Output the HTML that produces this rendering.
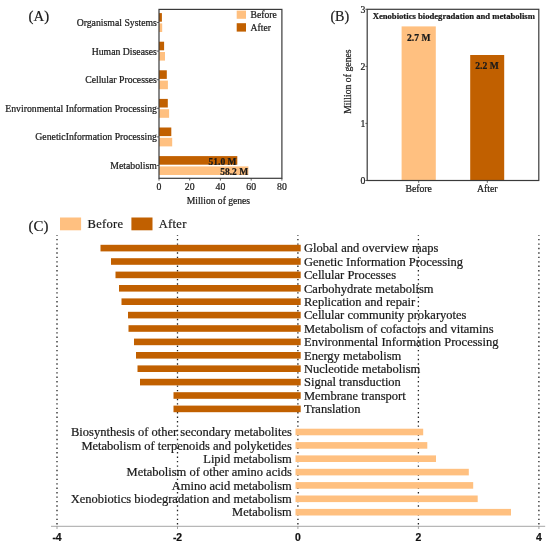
<!DOCTYPE html>
<html><head><meta charset="utf-8"><title>Figure</title>
<style>html,body{margin:0;padding:0;background:#fff}svg{display:block}text{font-family:"Liberation Serif","Times New Roman",serif;fill:#1a1a1a;stroke:#1a1a1a;stroke-width:0.22px}.b{font-weight:bold}.s{font-family:"Liberation Sans",Arial,sans-serif;font-weight:bold;fill:#111}</style>
</head><body>
<svg width="550" height="548" viewBox="0 0 550 548">
<rect width="550" height="548" fill="#fff"/>
<g id="panelA">
<text x="28.6" y="20.6" font-size="14.8">(A)</text>
<rect x="159.0" y="13.1" width="2.9" height="8.6" fill="#c16000"/>
<rect x="159.0" y="23.4" width="3.2" height="8.6" fill="#ffc080"/>
<line x1="156.8" x2="159.0" y1="22.5" y2="22.5" stroke="#3a3a3a" stroke-width="0.8"/>
<text x="156.9" y="25.9" font-size="9.75" text-anchor="end">Organismal Systems</text>
<rect x="159.0" y="41.7" width="5.1" height="8.6" fill="#c16000"/>
<rect x="159.0" y="52.0" width="6.0" height="8.6" fill="#ffc080"/>
<line x1="156.8" x2="159.0" y1="51.1" y2="51.1" stroke="#3a3a3a" stroke-width="0.8"/>
<text x="156.9" y="54.5" font-size="9.75" text-anchor="end">Human Diseases</text>
<rect x="159.0" y="70.3" width="7.8" height="8.6" fill="#c16000"/>
<rect x="159.0" y="80.6" width="8.9" height="8.6" fill="#ffc080"/>
<line x1="156.8" x2="159.0" y1="79.7" y2="79.7" stroke="#3a3a3a" stroke-width="0.8"/>
<text x="156.9" y="83.1" font-size="9.75" text-anchor="end">Cellular Processes</text>
<rect x="159.0" y="98.9" width="8.8" height="8.6" fill="#c16000"/>
<rect x="159.0" y="109.2" width="10.1" height="8.6" fill="#ffc080"/>
<line x1="156.8" x2="159.0" y1="108.3" y2="108.3" stroke="#3a3a3a" stroke-width="0.8"/>
<text x="156.9" y="111.7" font-size="9.75" text-anchor="end">Environmental Information Processing</text>
<rect x="159.0" y="127.5" width="12.3" height="8.6" fill="#c16000"/>
<rect x="159.0" y="137.8" width="13.2" height="8.6" fill="#ffc080"/>
<line x1="156.8" x2="159.0" y1="136.9" y2="136.9" stroke="#3a3a3a" stroke-width="0.8"/>
<text x="156.9" y="140.3" font-size="9.75" text-anchor="end">GeneticInformation Processing</text>
<rect x="159.0" y="156.1" width="78.3" height="8.6" fill="#c16000"/>
<rect x="159.0" y="166.4" width="89.4" height="8.6" fill="#ffc080"/>
<line x1="156.8" x2="159.0" y1="165.5" y2="165.5" stroke="#3a3a3a" stroke-width="0.8"/>
<text x="156.9" y="168.9" font-size="9.75" text-anchor="end">Metabolism</text>
<rect x="159.0" y="9.4" width="122.9" height="168.9" fill="none" stroke="#3a3a3a" stroke-width="1.2"/>
<line x1="159.0" x2="159.0" y1="178.3" y2="180.60000000000002" stroke="#3a3a3a" stroke-width="0.8"/>
<text x="159.0" y="190.2" font-size="9.75" text-anchor="middle">0</text>
<line x1="189.7" x2="189.7" y1="178.3" y2="180.60000000000002" stroke="#3a3a3a" stroke-width="0.8"/>
<text x="189.7" y="190.2" font-size="9.75" text-anchor="middle">20</text>
<line x1="220.4" x2="220.4" y1="178.3" y2="180.60000000000002" stroke="#3a3a3a" stroke-width="0.8"/>
<text x="220.4" y="190.2" font-size="9.75" text-anchor="middle">40</text>
<line x1="251.2" x2="251.2" y1="178.3" y2="180.60000000000002" stroke="#3a3a3a" stroke-width="0.8"/>
<text x="251.2" y="190.2" font-size="9.75" text-anchor="middle">60</text>
<line x1="281.9" x2="281.9" y1="178.3" y2="180.60000000000002" stroke="#3a3a3a" stroke-width="0.8"/>
<text x="281.9" y="190.2" font-size="9.75" text-anchor="middle">80</text>
<text x="218.4" y="204.3" font-size="9.6" text-anchor="middle">Million of genes</text>
<text class="b" x="236.5" y="165.2" font-size="9.5" text-anchor="end">51.0 M</text>
<text class="b" x="248.1" y="174.8" font-size="9.5" text-anchor="end">58.2 M</text>
<rect x="236.7" y="10.6" width="9.3" height="8.2" fill="#ffc080"/>
<rect x="236.7" y="23.2" width="9.3" height="8.4" fill="#c16000"/>
<text x="250.6" y="17.8" font-size="9.6">Before</text>
<text x="250.6" y="30.8" font-size="9.6">After</text>
</g>
<g id="panelB">
<text x="330.4" y="20.9" font-size="14.1">(B)</text>
<rect x="401.6" y="26.4" width="34.2" height="154.1" fill="#ffc080"/>
<rect x="470.2" y="55.0" width="34.0" height="125.5" fill="#c16000"/>
<rect x="367.2" y="9.3" width="171.6" height="171.2" fill="none" stroke="#3a3a3a" stroke-width="1.2"/>
<line x1="365.4" x2="367.2" y1="180.5" y2="180.5" stroke="#3a3a3a" stroke-width="0.8"/>
<text x="365.3" y="183.8" font-size="9.75" text-anchor="end">0</text>
<line x1="365.4" x2="367.2" y1="123.4" y2="123.4" stroke="#3a3a3a" stroke-width="0.8"/>
<text x="365.3" y="126.7" font-size="9.75" text-anchor="end">1</text>
<line x1="365.4" x2="367.2" y1="66.4" y2="66.4" stroke="#3a3a3a" stroke-width="0.8"/>
<text x="365.3" y="69.7" font-size="9.75" text-anchor="end">2</text>
<line x1="365.4" x2="367.2" y1="9.3" y2="9.3" stroke="#3a3a3a" stroke-width="0.8"/>
<text x="365.3" y="12.6" font-size="9.75" text-anchor="end">3</text>
<line x1="418.7" x2="418.7" y1="180.5" y2="182.8" stroke="#3a3a3a" stroke-width="0.8"/>
<line x1="487.3" x2="487.3" y1="180.5" y2="182.8" stroke="#3a3a3a" stroke-width="0.8"/>
<text x="418.7" y="191.6" font-size="9.75" text-anchor="middle">Before</text>
<text x="487.3" y="191.6" font-size="9.75" text-anchor="middle">After</text>
<text transform="translate(351.3,81.6) rotate(-90)" font-size="9.75" text-anchor="middle">Million of genes</text>
<text class="b" x="453.8" y="19.1" font-size="8.65" text-anchor="middle">Xenobiotics biodegradation and metabolism</text>
<text class="b" x="418.8" y="40.8" font-size="9.6" text-anchor="middle">2.7 M</text>
<text class="b" x="487.0" y="69.3" font-size="9.6" text-anchor="middle">2.2 M</text>
</g>
<g id="panelC">
<text x="28.6" y="230.9" font-size="14.8">(C)</text>
<rect x="60.0" y="217.5" width="21.1" height="12.8" fill="#ffc080"/>
<text x="87.5" y="228.3" font-size="12.5" letter-spacing="0.3">Before</text>
<rect x="131.4" y="217.5" width="21.1" height="12.8" fill="#c16000"/>
<text x="158.8" y="228.3" font-size="12.5" letter-spacing="0.3">After</text>
<line x1="57.0" x2="57.0" y1="235.3" y2="526.2" stroke="#222" stroke-width="1.3" stroke-dasharray="1.4 3.04" stroke-dashoffset="0.8"/>
<line x1="177.5" x2="177.5" y1="235.3" y2="526.2" stroke="#222" stroke-width="1.3" stroke-dasharray="1.4 3.04" stroke-dashoffset="0.8"/>
<line x1="297.9" x2="297.9" y1="235.3" y2="526.2" stroke="#222" stroke-width="1.3" stroke-dasharray="1.4 3.04" stroke-dashoffset="0.8"/>
<line x1="418.4" x2="418.4" y1="235.3" y2="526.2" stroke="#222" stroke-width="1.3" stroke-dasharray="1.4 3.04" stroke-dashoffset="0.8"/>
<line x1="538.9" x2="538.9" y1="235.3" y2="526.2" stroke="#222" stroke-width="1.3" stroke-dasharray="1.4 3.04" stroke-dashoffset="0.8"/>
<rect x="100.5" y="244.8" width="200.2" height="6.6" fill="#c16000"/>
<text x="304" y="252.4" font-size="12.5">Global and overview maps</text>
<rect x="111" y="258.2" width="189.7" height="6.6" fill="#c16000"/>
<text x="304" y="265.8" font-size="12.5">Genetic Information Processing</text>
<rect x="115.5" y="271.6" width="185.2" height="6.6" fill="#c16000"/>
<text x="304" y="279.2" font-size="12.5">Cellular Processes</text>
<rect x="119" y="285.0" width="181.7" height="6.6" fill="#c16000"/>
<text x="304" y="292.6" font-size="12.5">Carbohydrate metabolism</text>
<rect x="121.5" y="298.4" width="179.2" height="6.6" fill="#c16000"/>
<text x="304" y="306.0" font-size="12.5">Replication and repair</text>
<rect x="128" y="311.8" width="172.7" height="6.6" fill="#c16000"/>
<text x="304" y="319.4" font-size="12.5">Cellular community prokaryotes</text>
<rect x="128.5" y="325.2" width="172.2" height="6.6" fill="#c16000"/>
<text x="304" y="332.8" font-size="12.5">Metabolism of cofactors and vitamins</text>
<rect x="134" y="338.6" width="166.7" height="6.6" fill="#c16000"/>
<text x="304" y="346.2" font-size="12.5">Environmental Information Processing</text>
<rect x="136" y="352.0" width="164.7" height="6.6" fill="#c16000"/>
<text x="304" y="359.6" font-size="12.5">Energy metabolism</text>
<rect x="137.5" y="365.4" width="163.2" height="6.6" fill="#c16000"/>
<text x="304" y="373.0" font-size="12.5">Nucleotide metabolism</text>
<rect x="140" y="378.8" width="160.7" height="6.6" fill="#c16000"/>
<text x="304" y="386.4" font-size="12.5">Signal transduction</text>
<rect x="173.5" y="392.2" width="127.2" height="6.6" fill="#c16000"/>
<text x="304" y="399.8" font-size="12.5">Membrane transport</text>
<rect x="173.5" y="405.6" width="127.2" height="6.6" fill="#c16000"/>
<text x="304" y="413.2" font-size="12.5">Translation</text>
<rect x="295.5" y="428.7" width="127.7" height="6.6" fill="#ffc080"/>
<text x="291.8" y="436.2" font-size="12.5" text-anchor="end">Biosynthesis of other secondary metabolites</text>
<rect x="295.5" y="442.1" width="131.8" height="6.6" fill="#ffc080"/>
<text x="291.8" y="449.6" font-size="12.5" text-anchor="end">Metabolism of terpenoids and polyketides</text>
<rect x="295.5" y="455.4" width="140.5" height="6.6" fill="#ffc080"/>
<text x="291.8" y="462.9" font-size="12.5" text-anchor="end">Lipid metabolism</text>
<rect x="295.5" y="468.8" width="173.3" height="6.6" fill="#ffc080"/>
<text x="291.8" y="476.3" font-size="12.5" text-anchor="end">Metabolism of other amino acids</text>
<rect x="295.5" y="482.1" width="177.7" height="6.6" fill="#ffc080"/>
<text x="291.8" y="489.6" font-size="12.5" text-anchor="end">Amino acid metabolism</text>
<rect x="295.5" y="495.5" width="182.2" height="6.6" fill="#ffc080"/>
<text x="291.8" y="503.0" font-size="12.5" text-anchor="end">Xenobiotics biodegradation and metabolism</text>
<rect x="295.5" y="508.9" width="215.5" height="6.6" fill="#ffc080"/>
<text x="291.8" y="516.4" font-size="12.5" text-anchor="end">Metabolism</text>
<line x1="51" x2="545.2" y1="526.3" y2="526.3" stroke="#a6a6a6" stroke-width="1"/>
<line x1="57.0" x2="57.0" y1="526.3" y2="529" stroke="#888" stroke-width="0.8"/>
<text class="s" x="57.0" y="540.8" font-size="10.4" text-anchor="middle">-4</text>
<line x1="177.5" x2="177.5" y1="526.3" y2="529" stroke="#888" stroke-width="0.8"/>
<text class="s" x="177.5" y="540.8" font-size="10.4" text-anchor="middle">-2</text>
<line x1="297.9" x2="297.9" y1="526.3" y2="529" stroke="#888" stroke-width="0.8"/>
<text class="s" x="297.9" y="540.8" font-size="10.4" text-anchor="middle">0</text>
<line x1="418.4" x2="418.4" y1="526.3" y2="529" stroke="#888" stroke-width="0.8"/>
<text class="s" x="418.4" y="540.8" font-size="10.4" text-anchor="middle">2</text>
<line x1="538.9" x2="538.9" y1="526.3" y2="529" stroke="#888" stroke-width="0.8"/>
<text class="s" x="538.9" y="540.8" font-size="10.4" text-anchor="middle">4</text>
</g>
</svg></body></html>
